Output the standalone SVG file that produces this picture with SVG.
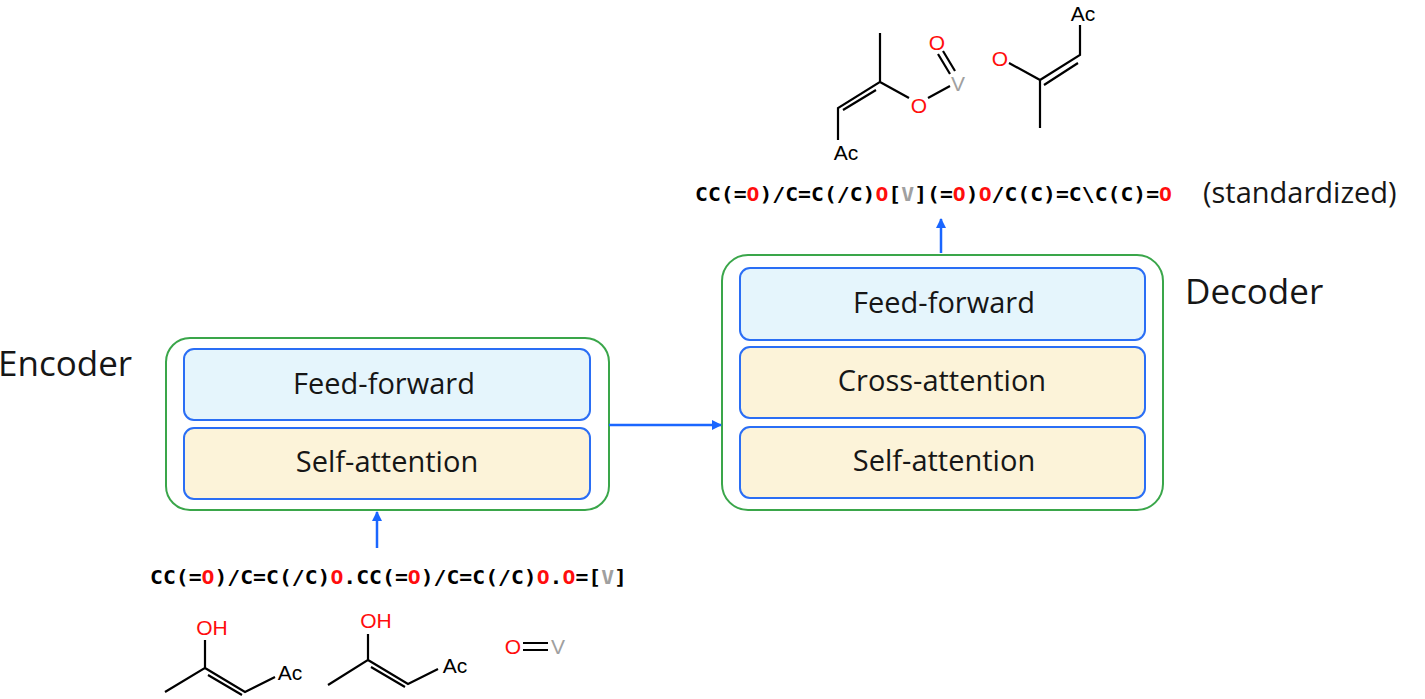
<svg xmlns="http://www.w3.org/2000/svg" width="1425" height="699" viewBox="0 0 1425 699">
<defs>
<style>
.outer{fill:#fff;stroke:#3aa64a;stroke-width:2}
.ff{fill:#e5f5fc;stroke:#2a6ef5;stroke-width:2}
.sa{fill:#fcf3d9;stroke:#2a6ef5;stroke-width:2}
.lbl{font-family:"Open Sans","Noto Sans",sans-serif;font-size:29px;fill:#161616;text-anchor:middle}
.big{font-family:"Open Sans","Noto Sans",sans-serif;font-size:35px;fill:#161616}
.smi{font-family:"DejaVu Sans Mono","Liberation Mono",monospace;font-weight:bold;font-size:19px;fill:#000}
.r{fill:#ff0d0d}.g{fill:#a0a0a0}
.b{stroke:#000;stroke-width:2.2;fill:none}
.at{font-family:"Liberation Sans",Arial,sans-serif;font-size:21px;text-anchor:middle}
.conn{stroke:#1a66ff;stroke-width:2.5;fill:none}
</style>
<marker id="ah" viewBox="0 0 10 10" refX="9" refY="5" markerWidth="4" markerHeight="4" orient="auto"><path d="M0,0L10,5L0,10z" fill="#1a66ff"/></marker>
</defs>
<g id="encoder">
<rect class="outer" x="166" y="338" width="443" height="172" rx="24"/>
<rect class="ff" x="184" y="349" width="406" height="71" rx="10"/>
<text class="lbl" x="384" y="394">Feed-forward</text>
<rect class="sa" x="184" y="428" width="406" height="71" rx="10"/>
<text class="lbl" x="387" y="472">Self-attention</text>
<text class="big" x="-2" y="376">Encoder</text>
</g>
<g id="decoder">
<rect class="outer" x="722" y="255" width="441" height="255" rx="26"/>
<rect class="ff" x="740" y="268" width="405" height="72" rx="10"/>
<text class="lbl" x="944" y="313">Feed-forward</text>
<rect class="sa" x="740" y="347" width="405" height="71" rx="10"/>
<text class="lbl" x="942" y="391">Cross-attention</text>
<rect class="sa" x="740" y="427" width="405" height="71" rx="10"/>
<text class="lbl" x="944" y="471">Self-attention</text>
<text class="big" x="1185" y="304">Decoder</text>
</g>
<g id="connectors">
<line class="conn" x1="609" y1="425" x2="721" y2="425" marker-end="url(#ah)"/>
<line class="conn" x1="377" y1="548" x2="377" y2="512" marker-end="url(#ah)"/>
<line class="conn" x1="941" y1="253" x2="941" y2="219" marker-end="url(#ah)"/>
</g>
<g id="output">
<text class="smi" x="695" y="201" textLength="477" lengthAdjust="spacingAndGlyphs">CC(=<tspan class="r">O</tspan>)/C=C(/C)<tspan class="r">O</tspan>[<tspan class="g">V</tspan>](=<tspan class="r">O</tspan>)<tspan class="r">O</tspan>/C(C)=C\C(C)=<tspan class="r">O</tspan></text>
<text x="1203" y="203" style="font-family:'Open Sans','Noto Sans',sans-serif;font-size:29px;fill:#161616">(standardized)</text>
<path class="b" d="M880,33L880,82L838,108L838,140M880,82L909,98M928,98L950,86M1009,63L1040,80L1040,128M1040,80L1080,55L1080,25"/>
<path class="b" d="M876,90L843,110M1044,85L1078,63M938,54L950,74M943,51L955,71"/>
<text class="at" x="846" y="160">Ac</text>
<text class="at" x="919" y="113" fill="#ff0d0d">O</text>
<text class="at" x="958" y="91" fill="#a0a0a0">V</text>
<text class="at" x="937" y="50" fill="#ff0d0d">O</text>
<text class="at" x="1000" y="66" fill="#ff0d0d">O</text>
<text class="at" x="1083" y="21">Ac</text>
</g>
<g id="input">
<text class="smi" x="150" y="584" textLength="477" lengthAdjust="spacingAndGlyphs">CC(=<tspan class="r">O</tspan>)/C=C(/C)<tspan class="r">O</tspan>.CC(=<tspan class="r">O</tspan>)/C=C(/C)<tspan class="r">O</tspan>.<tspan class="r">O</tspan>=[<tspan class="g">V</tspan>]</text>
<path class="b" d="M165,692L205,668L205,640M205,668L245,692L275,677M208,675L242,695"/>
<text class="at" x="212" y="635" fill="#ff0d0d">OH</text>
<text class="at" x="290" y="680">Ac</text>
<path class="b" d="M328,685L368,660L368,634M368,660L408,684L438,669M371,667L405,687"/>
<text class="at" x="376" y="628" fill="#ff0d0d">OH</text>
<text class="at" x="455" y="673">Ac</text>
<path class="b" d="M523,643L548,643M523,650L548,650"/>
<text class="at" x="513" y="654" fill="#ff0d0d">O</text>
<text class="at" x="558" y="654" fill="#a0a0a0">V</text>
</g>
</svg>
